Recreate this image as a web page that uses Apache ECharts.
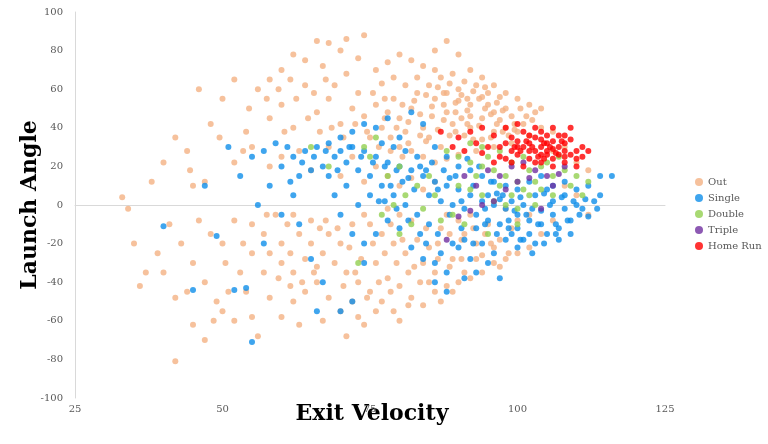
<!DOCTYPE html>
<html>
<head>
<meta charset="utf-8">
<script src="https://cdn.jsdelivr.net/npm/echarts@6/dist/echarts.min.js"></script>
<style>html,body{margin:0;padding:0;background:#fff}#main{width:768px;height:444px}</style>
</head>
<body>
<div id="main"></div>
<script>
var outPts = [[80,45],[82,50],[84,40],[86,55],[88,48],[90,60],[92,52],[94,45],[96,38],[98,50],[85,35],[87,30],[89,42],[91,36],[93,28],[95,58],[97,44],[99,32],[81,38],[83,58],[85,62],[87,66],[89,68],[91,64],[93,62],[95,52],[97,56],[99,46],[101,42],[103,48],[80,30],[82,28],[84,25],[86,22],[88,24],[90,26],[92,40],[94,34],[96,30],[79,55],[81,62],[83,66],[86,70],[88,58],[90,54],[92,46],[94,56],[96,48],[98,40],[100,38],[102,36],[104,40],[106,38],[78,48],[77,40],[76,52],[75,35],[74,46],[73,58],[72,50],[70,42],[68,55],[66,48],[64,62],[62,40],[60,52],[58,45],[56,60],[54,38],[52,65],[50,55],[48,42],[46,60],[44,28],[42,35],[40,22],[47,12],[45,10],[52,22],[55,30],[58,20],[60,25],[63,28],[65,18],[68,30],[70,15],[72,25],[74,12],[76,20],[78,15],[80,10],[82,14],[84,8],[86,12],
[66,85],[68,84],[71,86],[74,88],[70,80],[64,75],[62,78],[60,70],[58,65],[67,72],[73,76],[76,70],[78,74],[80,78],[82,75],[84,72],[86,80],[88,85],[90,78],[92,70],[94,66],[96,62],[98,58],[100,55],[102,52],[104,50],[77,63],[79,66],[71,68],[69,62],
[106,28],[108,30],[110,22],[112,18],[108,10],[110,5],[112,-5],[106,-8],[104,-15],[102,-22],[100,-25],[98,-28],[96,-30],[94,-35],[92,-38],[90,-40],[88,-42],[86,-45],
[75,-10],[77,-15],[79,-20],[81,-25],[83,-18],[85,-22],[87,-12],[89,-28],[91,-15],[93,-20],[95,-10],[97,-18],[99,-12],[80,-5],[82,-8],[84,-30],[86,-35],[88,-5],[90,-8],[76,-30],[78,-38],[80,-42],[82,-48],[84,-52],[79,-55],[77,-50],[75,-45],[73,-40],[71,-35],[69,-30],[67,-25],[65,-20],[63,-15],[61,-10],[59,-5],[57,-15],[55,-25],[53,-35],[51,-45],[49,-50],[47,-40],[45,-30],[43,-20],[41,-10],[39,-25],[37,-35],[36,-42],[35,-20],[33,4],[34,-2],[38,12],[42,-48],[44,-45],[45,-62],[47,-70],[42,-81],[50,-55],[52,-60],[55,-58],[58,-48],[60,-58],[62,-50],[64,-45],[66,-40],[68,-48],[70,-55],[72,-50],[74,-62],[71,-68],[85,-40],[87,-50],[89,-45],[91,-35],[93,-28],[60,-30],[62,-35],[64,-28],[66,-32],[68,-15],[70,-20],[72,-10],[74,-5],[62,-5],[65,-8],[58,-25],[55,-10],[52,-8],[50,-20],[48,-15],[46,-8],[40,-35],[60,-20],[57,-35],[54,-45],[56,-68],[63,-62],[67,-60],[73,-58],[80,-60],[76,-55],[78,-2],[92,-5],[96,-22],[100,-8],[102,-5],[98,-2],[94,-26],[97,-32],
[81.5,43],[83.5,47],[85.5,51],[87.5,44],[89.5,53],[91.5,49],[93.5,41],[95.5,47],[97.5,38],[99.5,42],[84.5,33],[86.5,39],[88.5,36],[90.5,45],[92.5,34],[94.5,50],[96.5,42],[98.5,36],[82.5,54],[84.5,57],[86.5,61],[88.5,63],[90.5,57],[92.5,59],[94.5,61],[96.5,53],[85.5,46],[87.5,52],[89.5,38],[91.5,42],[93.5,55],[83.5,36],[81.5,32],[79.5,40],[78.5,35],[77.5,45],[80.5,52],[89.5,48],[91.5,55],[87.5,58],[95.5,35],[97.5,49],[99.5,39],[101.5,46],[100.5,50],[102.5,44],[80.5,25],[78.5,28],[76.5,30],[74.5,38],[72.5,42],[70.5,35],[68.5,40],[66.5,38],[64.5,45],[62.5,55],[60.5,38],[57.5,55],[54.5,50],[53.5,28],[49.5,35],[44.5,18],[59.5,60],[61.5,65],[65.5,58],[67.5,65],[75.5,58],[77.5,55],
[78.5,-10],[80.5,-18],[82.5,-32],[84.5,-12],[86.5,-20],[88.5,-15],[90.5,-28],[92.5,-12],[94.5,-15],[83.5,-40],[81.5,-35],[79.5,-30],[77.5,-25],[75.5,-20],[73.5,-28],[71.5,-22],[69.5,-12],[67.5,-8],[65.5,-35],[63.5,-40],[61.5,-42],[59.5,-38],[57.5,-5],[70.5,-42],[72.5,-35],[74.5,-48],[78.5,-45],[81.5,-52],[86.5,-28],[88.5,-32],[90.5,-18],[95.5,-20],[98.5,-25],[61.5,-25],[53.5,-20],[50.5,-30],[48.5,-60],[66.5,-12],[76.5,-40]];
var singlePts = [[60,20],[62,25],[64,28],[66,30],[68,32],[70,35],[72,30],[74,28],[76,25],[78,22],[80,20],[82,18],[84,15],[86,12],[88,10],[90,8],[92,5],[94,2],[96,0],[98,-2],[100,-5],[102,-8],[104,-3],[106,2],[108,5],[110,8],[112,10],[114,15],[116,15],[113,2],[111,-2],[109,-8],[107,-12],[105,-15],[103,-20],[101,-18],[99,-15],[97,-10],[95,-8],[93,-12],[91,-18],[89,-20],[87,-25],[85,-10],[83,-5],[81,0],[79,5],[77,10],[75,15],[73,18],[71,22],[69,25],[67,20],[65,18],[63,15],[61,30],[59,32],[57,28],[55,25],[53,15],[51,30],[49,-16],[47,10],[45,-44],[40,-11],[54,-43],[55,-71],[52,-44],[57,-20],[60,-5],[63,-10],[65,-28],[67,-40],[70,-55],[72,-50],[66,-55],[74,-30],[76,-15],[78,-8],[80,-12],[82,-22],[84,-28],[86,-30],[88,-35],[90,-22],[92,-28],[94,-20],[96,-25],[98,-18],[100,-12],[102,-15],[104,-10],[106,-5],[108,-2],[110,0],[112,-6],[114,5],[80,35],[78,45],[76,40],[82,48],[84,42],[86,30],[88,25],[90,20],[92,18],[94,15],[96,12],[98,10],[100,8],[102,12],[104,15],[106,10],[108,12],[85,5],[87,2],[89,0],[91,-2],[93,-5],[95,5],[97,3],[99,2],[101,0],[103,5],[105,8],[107,-18],[109,-15],[83,25],[81,28],[79,30],[77,32],[75,5],[73,0],[71,10],[69,5],[68,15],[70,-5],[72,-15],[74,-20],[62,5],[58,10],[56,0],[70,28],[72,38],[74,42],[95,-30],[91,-38],[88,-45],[86,-40],[93,-35],[97,-38],[100,-22],
[84.5,18],[86.5,8],[88.5,14],[90.5,2],[92.5,10],[94.5,-2],[96.5,6],[98.5,-8],[100.5,4],[102.5,-2],[104.5,6],[106.5,-10],[96.5,-15],[94.5,-10],[92.5,-20],[90.5,-12],[88.5,-5],[86.5,-15],[84.5,-20],[98.5,-12],[100.5,-18],[102.5,-25],[104.5,-20],[106.5,-15],[108.5,-8],[110.5,-5],[103.5,-10],[101.5,-5],[99.5,-3],[97.5,5],[95.5,12],[93.5,20],[91.5,24],[89.5,15],[87.5,18],[85.5,22],[83.5,20],[81.5,14],[79.5,18],[77.5,20],[75.5,22],[73.5,25],[71.5,30],[69.5,18],[67.5,28],[65.5,25],[63.5,22],[61.5,12],[79.5,-2],[81.5,-8],[83.5,-15],[77.5,2],[82.5,8],[80.5,12],[78.5,10],[76.5,2],[105.5,0],[107.5,4],[111.5,3],[109.5,2],[113.5,-2]];
var doublePts = [[88,28],[90,25],[92,22],[94,20],[96,18],[98,15],[100,12],[102,18],[104,20],[106,15],[108,18],[110,15],[112,12],[90,10],[92,8],[94,5],[96,2],[98,0],[100,-2],[102,5],[104,8],[106,5],[95,25],[97,28],[99,22],[101,25],[103,12],[105,22],[107,25],[85,15],[83,10],[81,5],[79,0],[77,-5],[75,25],[74,30],[76,35],[78,15],[80,20],[82,-10],[87,-8],[89,-5],[91,-10],[86,5],[84,-2],[93,15],[97,10],[99,5],[101,8],[103,0],[111,5],[109,10],[73,-30],[65,30],[68,20],[80,-15],[95,-15],[100,-10],[94,30],[92,32]];
var triplePts = [[95,18],[97,15],[99,20],[101,22],[103,18],[105,15],[107,16],[100,12],[102,14],[98,8],[96,2],[94,0],[92,-3],[90,-6],[88,-18],[93,10],[104,-2],[106,10],[108,20],[91,15]];
var homeRunPts = [[90,35],[92,38],[94,40],[96,36],[98,32],[100,30],[102,28],[104,26],[106,24],[108,22],[110,28],[112,28],[99,35],[101,38],[103,35],[105,32],[107,30],[109,34],[111,30],[97,25],[99,22],[101,20],[103,22],[105,28],[107,36],[109,40],[100,26],[102,32],[104,30],[106,33],[108,28],[110,24],[95,30],[93,32],[91,28],[89,30],[87,38],[98,40],[100,42],[104,38],[106,40],[108,36],[102,24],[104,22],[106,20],[108,25],[110,20],[103,28],[105,26],[107,26],[101,30],[99,28],[97,30],[94,27],[96,22],[98,24],[100,33],[102,36],[104,34],[106,29],[108,32],[109,26],[111,25],[105,36],[103,40],
[100.5,28],[102.5,30],[104.5,32],[106.5,27],[101.5,33],[103.5,25],[105.5,30],[99.5,30],[107.5,33],[104.5,24]];

var chart = echarts.init(document.getElementById('main'));
var font = 'DejaVu Serif';
function sc(name, data, color) {
	return {name: name, type: 'scatter', data: data, symbolSize: 6, itemStyle: {color: color}};
}
chart.setOption({
	animation: false,
	textStyle: {fontFamily: font},
	grid: {left: 75, right: 103, top: 12, bottom: 46},
	legend: {
		orient: 'vertical', left: 690, top: 172, itemGap: 6, itemWidth: 8, itemHeight: 8, icon: 'circle',
		textStyle: {fontFamily: font, fontSize: 10, color: '#595959'},
		data: ['Out', 'Single', 'Double', 'Triple', 'Home Run']
	},
	xAxis: {
		type: 'value', min: 25, max: 125, interval: 25,
		axisLine: {onZero: true, lineStyle: {color: '#d9d9d9'}},
		axisTick: {show: false}, splitLine: {show: false},
		axisLabel: {color: '#595959', fontSize: 10, fontFamily: font, margin: 6}
	},
	yAxis: {
		type: 'value', min: -100, max: 100, interval: 20,
		axisLine: {show: true, lineStyle: {color: '#d9d9d9'}},
		axisTick: {show: false}, splitLine: {show: false},
		axisLabel: {color: '#595959', fontSize: 10, fontFamily: font, margin: 12}
	},
	graphic: [
		{type: 'text', x: 30, y: 205, rotation: Math.PI / 2, style: {text: 'Launch Angle', font: 'bold 22px "DejaVu Serif"', fill: '#000', align: 'center', verticalAlign: 'middle'}},
		{type: 'text', x: 372, y: 414, style: {text: 'Exit Velocity', font: 'bold 22px "DejaVu Serif"', fill: '#000', align: 'center', verticalAlign: 'middle'}}
	],
	series: [
		sc('Out', outPts, '#F4B183'),
		sc('Single', singlePts, '#0F8FEA'),
		sc('Double', doublePts, '#92D050'),
		sc('Triple', triplePts, '#7030A0'),
		sc('Home Run', homeRunPts, '#FF0000')
	]
});
</script>
</body>
</html>
